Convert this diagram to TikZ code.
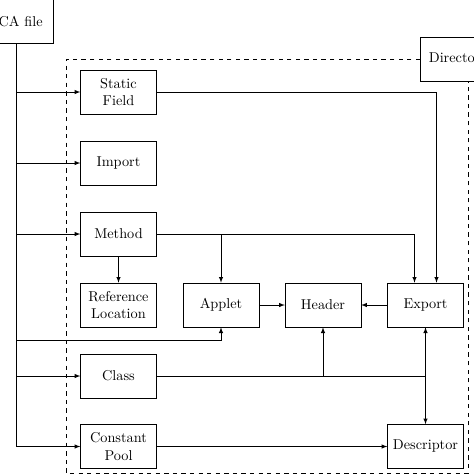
\documentclass[tikz,border=0pt]{standalone}
\usetikzlibrary{calc,positioning}
\tikzset{block/.style={draw, minimum width=53pt, minimum height=30.8pt, align=center, inner sep=2pt}}
\begin{document}
\begin{tikzpicture}[x=0.7pt, y=-0.7pt, >=latex]
\useasboundingbox (0,0) rectangle (474,474);
% file and directory
\node[draw, anchor=east, minimum height=30.8pt, inner xsep=7.7pt] (cap) at (54,21.5) {CA file};
\coordinate (trunk) at (16,43);
\node[draw, anchor=west, minimum height=30.8pt, inner xsep=6pt] (dir) at (420,59.5) {Directory};
\draw[dashed] (dir.west) -- (66,59.5) -- (66,473) -- (468,473) -- (468,0 |- dir.south);
% components
\node[block] (field) at (118.5,92) {Static\\Field};
\node[block] (import) at (118.5,163) {Import};
\node[block] (method) at (118.5,234) {Method};
\node[block] (refloc) at (118.5,305) {Reference\\Location};
\node[block] (class) at (118.5,376) {Class};
\node[block] (pool) at (118.5,446.5) {Constant\\Pool};
\node[block] (applet) at (221,305) {Applet};
\node[block] (header) at (323,305) {Header};
\node[block] (export) at (425.5,305) {Export};
\node[block] (descr) at (425.5,446.5) {Descriptor};
% from the file
\draw[->] (trunk) |- (pool);
\draw[->] (trunk |- field) -- (field);
\draw[->] (trunk |- import) -- (import);
\draw[->] (trunk |- method) -- (method);
\draw[->] (trunk |- class) -- (class);
\coordinate (tap) at (16,340);
\draw[->] (tap) -| (applet.south);
% between components
\draw[->] (field.east) -| ($(export.north)+(11,0)$);
\draw[->] (method.east) -| ($(export.north)+(-11,0)$);
\draw[->] (applet.north |- method.east) -- (applet.north);
\draw[->] (method) -- (refloc);
\draw[->] (applet) -- (header);
\draw[->] (export) -- (header);
\draw (class.east) -- (export.south |- class.east);
\draw[->] (header.south |- class.east) -- (header.south);
\draw[->] (export.south |- class.east) -- (export.south);
\draw[->] (export.south |- class.east) -- (descr.north);
\draw[->] (pool) -- (descr);
\end{tikzpicture}
\end{document}
